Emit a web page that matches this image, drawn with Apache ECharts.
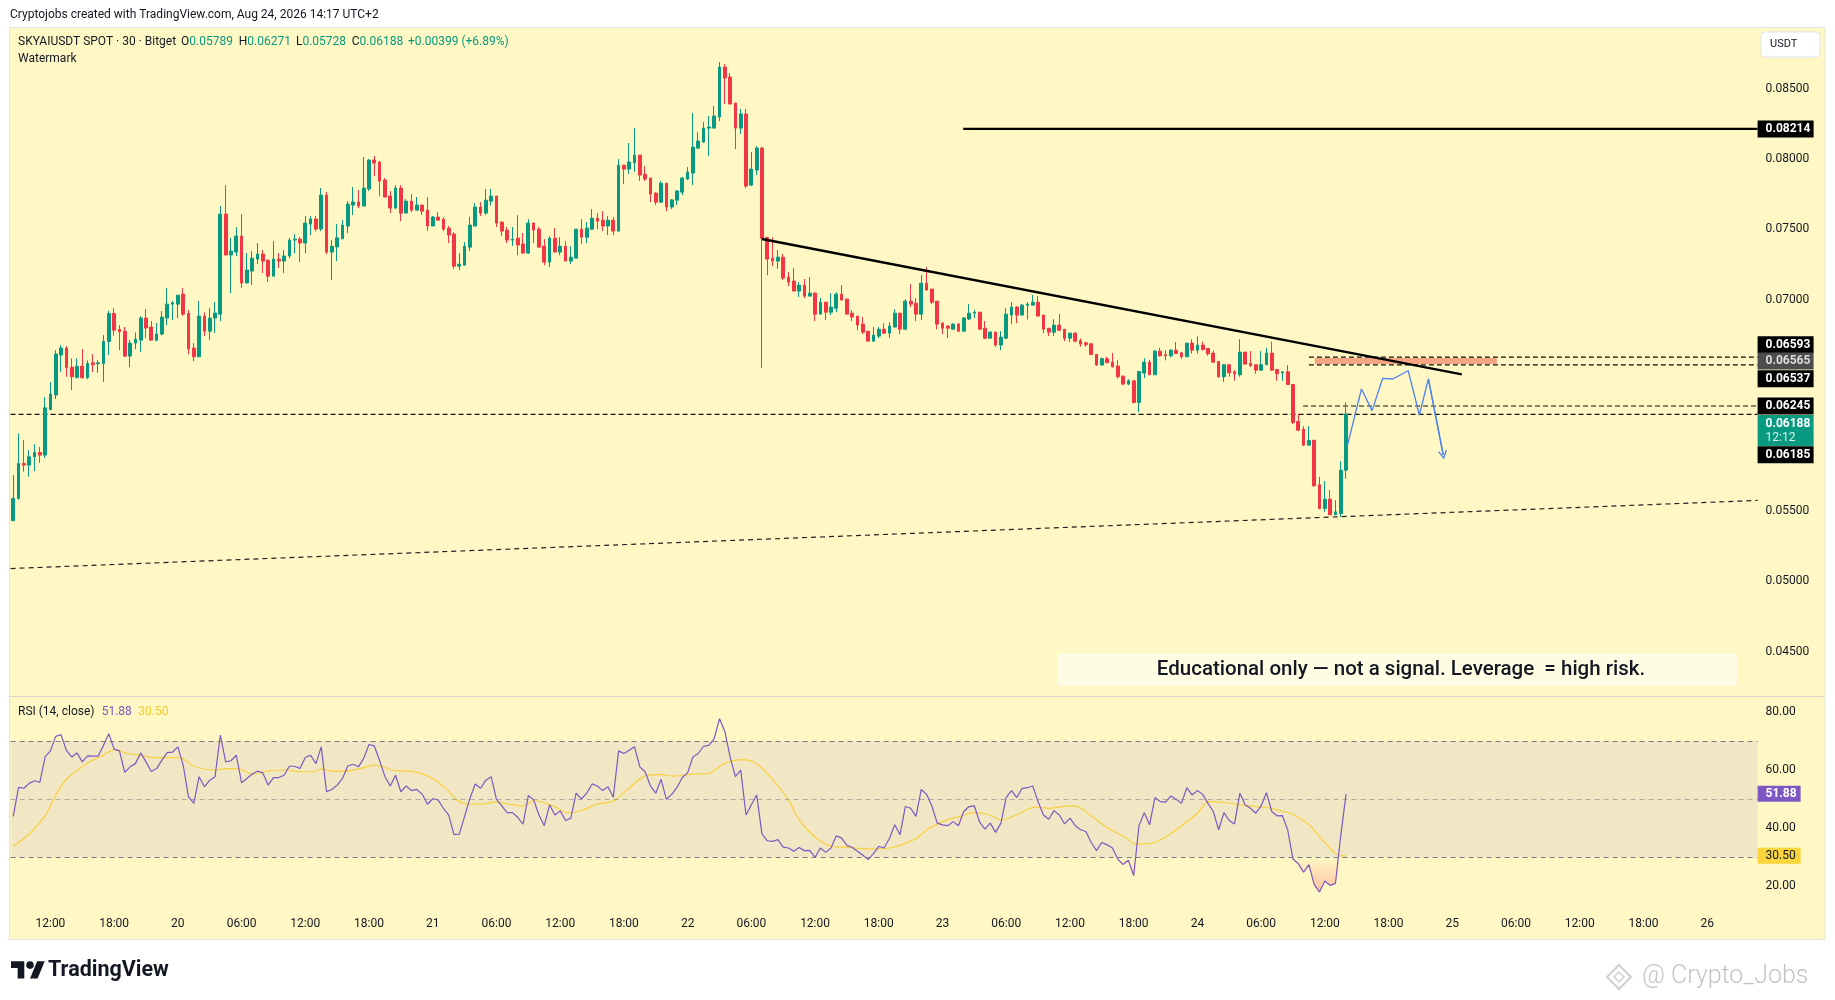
<!DOCTYPE html>
<html>
<head>
<meta charset="utf-8">
<script src="https://cdn.jsdelivr.net/npm/echarts@6/dist/echarts.min.js"></script>
<style>
html,body{margin:0;padding:0;background:#ffffff;}
#chart{width:1835px;height:1000px;}
</style>
</head>
<body>
<div id="chart"></div>
<script>
// ---------------- DATA ----------------
const opens = [0.05430,0.05588,0.05836,0.05825,0.05884,0.05915,0.05896,0.06220,0.06323,0.06607,
0.06657,0.06521,0.06448,0.06528,0.06446,0.06552,0.06547,0.06547,0.06704,0.06903,
0.06789,0.06777,0.06600,0.06692,0.06713,0.06870,0.06806,0.06713,0.06756,0.06870,
0.06969,0.06969,0.07040,0.06903,0.06657,0.06595,0.06884,0.06777,0.06870,0.06898,
0.07609,0.07318,0.07339,0.07453,0.07119,0.07204,0.07289,0.07325,0.07280,0.07168,
0.07289,0.07275,0.07311,0.07424,0.07431,0.07403,0.07538,0.07574,0.07503,0.07744,
0.07339,0.07375,0.07433,0.07524,0.07673,0.07695,0.07666,0.07787,0.07993,0.07979,
0.07851,0.07737,0.07652,0.07794,0.07616,0.07701,0.07637,0.07673,0.07637,0.07524,
0.07588,0.07573,0.07509,0.07467,0.07239,0.07246,0.07374,0.07524,0.07659,0.07616,
0.07701,0.07737,0.07552,0.07495,0.07424,0.07438,0.07396,0.07332,0.07545,0.07502,
0.07381,0.07268,0.07438,0.07339,0.07381,0.07275,0.07296,0.07502,0.07445,0.07502,
0.07580,0.07566,0.07524,0.07566,0.07488,0.07957,0.07929,0.07972,0.08028,0.07893,
0.07865,0.07758,0.07694,0.07829,0.07659,0.07708,0.07765,0.07858,0.07901,0.08078,
0.08121,0.08220,0.08220,0.08299,0.08654,0.08583,0.08398,0.08220,0.08320,0.07815,
0.07922,0.08078,0.07443,0.07296,0.07275,0.07303,0.07161,0.07133,0.07062,0.07104,
0.07026,0.07047,0.06898,0.06983,0.06912,0.06940,0.07040,0.07005,0.06905,0.06884,
0.06827,0.06777,0.06706,0.06742,0.06791,0.06763,0.06806,0.06905,0.06791,0.06990,
0.06976,0.06898,0.07118,0.07076,0.06990,0.06834,0.06813,0.06791,0.06827,0.06777,
0.06863,0.06905,0.06912,0.06798,0.06727,0.06770,0.06678,0.06727,0.06891,0.06948,
0.06891,0.06962,0.06962,0.06983,0.06891,0.06798,0.06770,0.06820,0.06791,0.06727,
0.06763,0.06709,0.06694,0.06687,0.06611,0.06536,0.06581,0.06557,0.06529,0.06457,
0.06401,0.06424,0.06270,0.06479,0.06557,0.06467,0.06635,0.06609,0.06602,0.06642,
0.06623,0.06595,0.06692,0.06642,0.06678,0.06654,0.06621,0.06562,0.06453,0.06538,
0.06488,0.06467,0.06628,0.06548,0.06538,0.06500,0.06538,0.06621,0.06505,0.06481,
0.06488,0.06398,0.06135,0.06080,0.05967,0.06002,0.05685,0.05517,0.05583,0.05472,
0.05481,0.05789];

const closes = [0.05588,0.05836,0.05825,0.05884,0.05915,0.05896,0.06232,0.06330,0.06614,0.06657,
0.06517,0.06453,0.06528,0.06446,0.06547,0.06538,0.06552,0.06704,0.06903,0.06784,
0.06773,0.06600,0.06692,0.06720,0.06870,0.06799,0.06713,0.06756,0.06877,0.06969,
0.06979,0.07033,0.06898,0.06650,0.06595,0.06884,0.06777,0.06870,0.06906,0.07609,
0.07318,0.07346,0.07453,0.07119,0.07211,0.07296,0.07325,0.07275,0.07168,0.07289,
0.07275,0.07311,0.07424,0.07431,0.07403,0.07545,0.07574,0.07503,0.07744,0.07339,
0.07380,0.07440,0.07531,0.07680,0.07695,0.07666,0.07794,0.07993,0.07972,0.07844,
0.07730,0.07652,0.07794,0.07616,0.07701,0.07637,0.07673,0.07630,0.07524,0.07588,
0.07566,0.07502,0.07460,0.07239,0.07253,0.07381,0.07531,0.07659,0.07616,0.07708,
0.07737,0.07545,0.07488,0.07424,0.07431,0.07389,0.07332,0.07545,0.07495,0.07374,
0.07268,0.07438,0.07339,0.07381,0.07275,0.07303,0.07502,0.07445,0.07509,0.07580,
0.07559,0.07524,0.07566,0.07488,0.07957,0.07929,0.07979,0.08028,0.07886,0.07858,
0.07751,0.07694,0.07829,0.07659,0.07710,0.07773,0.07865,0.07908,0.08085,0.08128,
0.08220,0.08228,0.08306,0.08654,0.08576,0.08391,0.08220,0.08320,0.07808,0.07929,
0.08078,0.07436,0.07289,0.07275,0.07303,0.07154,0.07125,0.07062,0.07104,0.07026,
0.07047,0.06898,0.06983,0.06912,0.06948,0.07040,0.06998,0.06898,0.06877,0.06820,
0.06770,0.06706,0.06749,0.06791,0.06763,0.06813,0.06905,0.06791,0.06990,0.06969,
0.06898,0.07118,0.07069,0.06983,0.06827,0.06798,0.06798,0.06827,0.06777,0.06870,
0.06905,0.06912,0.06791,0.06727,0.06770,0.06678,0.06735,0.06898,0.06948,0.06891,
0.06962,0.06970,0.06983,0.06884,0.06791,0.06770,0.06820,0.06784,0.06727,0.06763,
0.06706,0.06685,0.06680,0.06611,0.06536,0.06581,0.06552,0.06524,0.06453,0.06401,
0.06424,0.06270,0.06490,0.06557,0.06467,0.06635,0.06602,0.06602,0.06642,0.06618,
0.06595,0.06692,0.06642,0.06678,0.06647,0.06616,0.06557,0.06453,0.06538,0.06481,
0.06472,0.06628,0.06543,0.06531,0.06500,0.06538,0.06621,0.06500,0.06474,0.06488,
0.06398,0.06128,0.06073,0.05967,0.06000,0.05678,0.05517,0.05583,0.05472,0.05493,
0.05789,0.06188];

const lows = [0.05430,0.05580,0.05778,0.05742,0.05782,0.05841,0.05877,0.06216,0.06294,0.06488,
0.06453,0.06358,0.06441,0.06441,0.06436,0.06486,0.06481,0.06417,0.06607,0.06744,
0.06642,0.06593,0.06521,0.06649,0.06630,0.06727,0.06713,0.06704,0.06747,0.06820,
0.06856,0.06870,0.06886,0.06614,0.06564,0.06595,0.06742,0.06713,0.06763,0.06848,
0.07318,0.07047,0.07310,0.07085,0.07119,0.07104,0.07254,0.07190,0.07126,0.07168,
0.07225,0.07190,0.07296,0.07330,0.07268,0.07330,0.07460,0.07488,0.07488,0.07325,
0.07140,0.07275,0.07433,0.07474,0.07602,0.07652,0.07666,0.07772,0.07879,0.07737,
0.07730,0.07616,0.07645,0.07559,0.07616,0.07623,0.07637,0.07602,0.07488,0.07524,
0.07566,0.07488,0.07403,0.07218,0.07211,0.07246,0.07346,0.07524,0.07595,0.07602,
0.07670,0.07517,0.07453,0.07403,0.07382,0.07317,0.07325,0.07325,0.07403,0.07374,
0.07246,0.07232,0.07339,0.07317,0.07275,0.07253,0.07296,0.07396,0.07403,0.07495,
0.07502,0.07488,0.07460,0.07460,0.07481,0.07822,0.07893,0.07910,0.07844,0.07844,
0.07694,0.07673,0.07687,0.07630,0.07645,0.07673,0.07744,0.07851,0.07815,0.08071,
0.08114,0.08021,0.08220,0.08270,0.08391,0.08391,0.08071,0.08178,0.07794,0.07808,
0.07886,0.06516,0.07175,0.07240,0.07220,0.07140,0.07097,0.07062,0.07020,0.07012,
0.07026,0.06848,0.06898,0.06855,0.06891,0.06912,0.06998,0.06898,0.06848,0.06784,
0.06756,0.06706,0.06706,0.06727,0.06756,0.06727,0.06806,0.06756,0.06784,0.06948,
0.06848,0.06855,0.07069,0.06969,0.06791,0.06756,0.06727,0.06791,0.06770,0.06777,
0.06856,0.06870,0.06784,0.06720,0.06727,0.06663,0.06642,0.06720,0.06827,0.06834,
0.06891,0.06860,0.06962,0.06884,0.06763,0.06742,0.06742,0.06777,0.06706,0.06699,
0.06699,0.06666,0.06666,0.06607,0.06531,0.06536,0.06552,0.06519,0.06439,0.06393,
0.06393,0.06263,0.06201,0.06443,0.06467,0.06467,0.06597,0.06569,0.06590,0.06614,
0.06581,0.06595,0.06618,0.06618,0.06640,0.06602,0.06550,0.06446,0.06417,0.06453,
0.06424,0.06453,0.06543,0.06524,0.06474,0.06495,0.06538,0.06495,0.06424,0.06424,
0.06398,0.06116,0.06066,0.05960,0.05967,0.05671,0.05510,0.05493,0.05472,0.05472,
0.05457,0.05728];

const highs = [0.05754,0.06050,0.06003,0.05931,0.05974,0.05955,0.06308,0.06415,0.06642,0.06678,
0.06671,0.06583,0.06583,0.06649,0.06569,0.06614,0.06571,0.06749,0.06922,0.06940,
0.06820,0.06806,0.06713,0.06768,0.06884,0.06934,0.06848,0.06834,0.06920,0.07083,
0.06990,0.07033,0.07083,0.06927,0.06692,0.06991,0.06910,0.06940,0.06984,0.07666,
0.07815,0.07440,0.07517,0.07609,0.07332,0.07346,0.07403,0.07353,0.07289,0.07417,
0.07332,0.07353,0.07440,0.07467,0.07446,0.07595,0.07595,0.07595,0.07794,0.07766,
0.07424,0.07538,0.07567,0.07702,0.07801,0.07780,0.08014,0.08000,0.08021,0.07986,
0.07865,0.07772,0.07815,0.07815,0.07716,0.07751,0.07730,0.07673,0.07730,0.07595,
0.07623,0.07588,0.07524,0.07481,0.07332,0.07410,0.07588,0.07687,0.07694,0.07787,
0.07787,0.07737,0.07559,0.07517,0.07517,0.07602,0.07474,0.07573,0.07552,0.07517,
0.07431,0.07453,0.07509,0.07445,0.07417,0.07381,0.07502,0.07573,0.07552,0.07644,
0.07616,0.07630,0.07595,0.07588,0.08000,0.07957,0.08114,0.08220,0.08028,0.07950,
0.07865,0.07765,0.07844,0.07829,0.07716,0.07780,0.07872,0.07943,0.08327,0.08192,
0.08263,0.08306,0.08377,0.08690,0.08675,0.08611,0.08398,0.08356,0.08356,0.08050,
0.08092,0.08088,0.07443,0.07443,0.07353,0.07325,0.07197,0.07225,0.07126,0.07147,
0.07161,0.07054,0.07012,0.06983,0.07047,0.07054,0.07104,0.07005,0.06926,0.06884,
0.06877,0.06777,0.06806,0.06806,0.06834,0.06841,0.06933,0.06905,0.07005,0.07111,
0.07012,0.07175,0.07232,0.07076,0.06990,0.06841,0.06820,0.06834,0.06834,0.06877,
0.06970,0.06926,0.06912,0.06848,0.06777,0.06777,0.06777,0.06941,0.06983,0.06955,
0.06970,0.06983,0.07033,0.07026,0.06891,0.06798,0.06862,0.06898,0.06791,0.06763,
0.06770,0.06725,0.06702,0.06692,0.06616,0.06590,0.06595,0.06623,0.06571,0.06462,
0.06436,0.06429,0.06495,0.06585,0.06574,0.06642,0.06659,0.06642,0.06649,0.06700,
0.06630,0.06692,0.06720,0.06740,0.06702,0.06654,0.06640,0.06562,0.06543,0.06543,
0.06500,0.06720,0.06628,0.06635,0.06538,0.06635,0.06659,0.06702,0.06505,0.06488,
0.06536,0.06398,0.06190,0.06102,0.06102,0.06002,0.05742,0.05711,0.05647,0.05576,
0.05853,0.06271];

const rsiValues = [44.1,54.1,53.8,55.5,56.4,55.8,64.6,66.7,71.7,72.3,
66.9,64.6,66.0,62.9,65.0,64.9,64.9,68.6,72.6,67.3,
66.7,59.3,61.2,62.3,66.0,62.9,59.6,60.6,63.5,66.1,
66.3,68.1,61.8,50.9,48.6,57.8,54.3,56.6,57.8,72.1,
62.9,63.3,65.2,55.7,57.2,58.7,59.7,59.1,54.9,57.5,
57.5,58.3,61.4,61.4,60.6,64.4,65.2,62.3,68.1,52.6,
53.4,54.9,57.2,61.5,62.1,61.2,64.1,68.9,68.4,63.3,
57.8,54.6,58.3,52.6,54.6,53.0,53.4,51.8,48.3,50.2,
49.8,46.9,44.6,37.8,38.0,44.1,50.3,55.3,53.8,56.6,
57.8,50.0,47.7,45.4,45.4,43.8,41.4,51.3,49.8,44.6,
40.9,48.1,44.6,46.0,42.7,43.5,52.1,50.1,52.1,55.3,
54.6,53.0,54.3,50.7,66.7,65.8,66.9,68.1,61.2,59.5,
54.6,52.1,56.9,50.0,51.7,54.1,57.5,59.1,64.6,65.8,
68.3,68.6,70.9,77.8,73.5,64.6,57.8,60.1,44.6,48.1,
51.5,38.1,35.7,35.5,36.1,33.5,33.2,32.1,33.4,32.3,
32.4,30.0,33.2,31.7,33.2,37.4,36.6,34.1,33.4,32.1,
30.7,29.2,31.3,33.8,33.2,36.5,41.2,37.8,47.5,46.9,
44.1,53.4,51.7,47.7,41.8,41.2,40.9,42.3,40.9,45.8,
47.5,47.7,42.1,39.7,41.8,38.6,41.8,50.7,53.0,50.6,
53.8,54.0,54.6,49.2,44.6,43.1,46.1,44.6,41.5,43.5,
40.9,39.5,38.9,35.1,32.3,35.1,34.3,33.2,29.4,27.5,
29.0,23.7,40.9,45.4,41.2,50.6,49.2,49.0,51.1,50.0,
48.6,54.0,51.5,53.0,51.7,48.6,45.8,39.5,45.4,42.7,
41.5,52.1,48.1,46.9,45.2,47.7,52.3,45.8,44.3,44.4,
39.5,29.4,27.8,24.9,27.5,20.6,18.0,21.8,20.3,21.0,
37.5,51.88];

// RSI-based moving average, read at these bar positions
const rsiMaIdx = [0,3.15,5.97,7.85,10.05,13.8,16.3,19.2,21.4,23.9,26.4,28.9,31.4,33.9,37.7,40.2,42.1,45.2,47.7,51.5,54,56.5,58.1,60.3,62.8,65.3,68.1,71.9,74.7,77.2,79.7,80.4,81.9,83.5,86,88.5,90.7,93.5,95.9,98.2,101.7,104.5,107.3,109.8,113,116.1,118.9,121.8,124.3,128,130.9,132.5,134.3,137.2,140,143.1,146,147.8,151,154.1,157.6,161,165,167,169.8,172.6,175.8,178.3,181.1,183.9,186.1,188.9,192.4,195.2,197.4,199.9,202.8,205.9,209.7,211.3,213.8,216.6,219.8,222.9,225.1,228.3,231.1,234.3,236.8,239.3,241.2,244,246.8,249.7,251];
const rsiMaVal = [33.8,38.3,44.3,50.9,57,62.3,64.6,67.1,65.8,65.2,64.4,64.4,64.4,61.5,60.1,60.6,60.6,58.7,59.7,60.1,59.5,59.5,60.4,59.7,59.7,60.6,61.8,59.9,59.7,58.7,56.4,55.3,53,49.8,48.3,48.4,49,48.3,47.7,49.5,47.7,45.4,46.3,48.3,49.4,54.1,58,58.6,58,58.7,58.9,60.6,62.7,63.7,62.3,56.6,49.8,43.5,37,33.8,33.4,32.9,33.2,34.1,36.3,40.1,42.9,44.1,45.4,44.6,42.9,44.6,47.3,46.9,47.5,47.7,44.6,40.4,36.6,34.6,34.7,36.6,40.6,45,49.2,48.9,48.1,47.5,46.9,45.8,44.6,41.2,35.5,30.6,30.5];

const priceTickLabels = ['0.04500','0.05000','0.05500','0.07000','0.07500','0.08000','0.08500'];
const rsiTickLabels = ['20.00','40.00','60.00','80.00'];

// time slots: 30-minute bars, first bar Aug 19 08:30, axis runs into the future
const firstBarTime = Date.UTC(2026, 7, 19, 8, 30);
const slotCount = 329;

// drawings (bar index, price)
const resistanceLevel = 0.08214, resistanceFrom = 178.9;
const trendIdx = [141, 272.8], trendVal = [0.07432, 0.06470];
const supportIdx = [-0.5, 328.5], supportVal = [0.05090, 0.05574];
const zoneUpper = 0.06593, zoneMid = 0.06565, zoneLower = 0.06537, zoneFrom = 244, bandIdx = [245.1, 279.4];
const breakLevel = 0.06245, breakFrom = 242.9;
const lastLevel = 0.06185;
const projIdx = [251.2, 253.9, 255.9, 257.9, 259.8, 262.7, 264.8, 266.5, 269.3];
const projVal = [0.05956, 0.06366, 0.06212, 0.06442, 0.06437, 0.06496, 0.06181, 0.06437, 0.05897];

const currentPrice = 0.06188, countdown = '12:12';
const rsiLast = 51.88, rsiMaLast = 30.50;
const headerPairs = [['O','0.05789'],['H','0.06271'],['L','0.05728'],['C','0.06188']];
const headerChange = '+0.00399 (+6.89%)';

// ---------------- BUILD ----------------
const FONT = "Roboto, 'Liberation Sans', sans-serif";
const GREEN = '#089981', RED = '#F23645', TXT = '#131722';

const cats = [];
for (let i = 0; i < slotCount; i++) {
  cats.push(new Date(firstBarTime + i * 1800000).toISOString().slice(0, 16));
}
const pad = n => (n < 10 ? '0' : '') + n;
const candleData = opens.map((o, i) => [o, closes[i], lows[i], highs[i]]);
const osBase = rsiValues.map(v => Math.min(v, 30));
const osFill = osBase.map(v => 30 - v);
const lastX = slotCount - 0.5;

function drawLine(id, xs, ys, style, z) {
  return { type: 'line', id, xAxisIndex: 1, yAxisIndex: 0, data: xs.map((x, i) => [x, ys[i]]),
    symbol: 'none', silent: true, z: z || 3, lineStyle: style, emphasis: { disabled: true } };
}

const chart = echarts.init(document.getElementById('chart'), null, { renderer: 'canvas' });

const option = {
  animation: false,
  backgroundColor: '#ffffff',
  textStyle: { fontFamily: FONT },
  grid: [
    { left: 10.6, right: 77.4, top: 18.37, bottom: 278.1, outerBoundsMode: 'none', containLabel: false },
    { left: 10.6, right: 77.4, top: 654.3, bottom: 55.7, outerBoundsMode: 'none', containLabel: false }
  ],
  xAxis: [
    { type: 'category', gridIndex: 0, data: cats, boundaryGap: true, show: false },
    { type: 'value', gridIndex: 0, min: -0.5, max: lastX, show: false },
    { type: 'category', gridIndex: 1, data: cats, boundaryGap: true,
      axisLine: { show: false }, axisTick: { show: false }, splitLine: { show: false },
      axisLabel: {
        margin: -26, color: TXT, fontSize: 12, fontFamily: FONT, verticalAlign: 'top',
        interval: (idx, val) => { const d = new Date(val + ':00Z'); return d.getUTCMinutes() === 0 && d.getUTCHours() % 6 === 0; },
        formatter: val => { const d = new Date(val + ':00Z'); const h = d.getUTCHours(); return h === 0 ? String(d.getUTCDate()) : pad(h) + ':00'; }
      } },
    { type: 'value', gridIndex: 1, min: -0.5, max: lastX, show: false }
  ],
  yAxis: [
    { type: 'value', gridIndex: 0, position: 'right', min: 0.04, max: 0.09, interval: 0.005,
      axisLine: { show: false }, axisTick: { show: false }, splitLine: { show: false },
      axisLabel: { margin: 8, color: TXT, fontSize: 12, fontFamily: FONT,
        formatter: v => { const s = v.toFixed(5); return priceTickLabels.includes(s) ? s : ''; } } },
    { type: 'value', gridIndex: 1, position: 'right', min: 0, max: 100, interval: 20,
      axisLine: { show: false }, axisTick: { show: false }, splitLine: { show: false },
      axisLabel: { margin: 8, color: TXT, fontSize: 12, fontFamily: FONT,
        formatter: v => { const s = v.toFixed(2); return rsiTickLabels.includes(s) ? s : ''; } } }
  ],
  series: [
    { type: 'candlestick', name: 'SKYAIUSDT', xAxisIndex: 0, yAxisIndex: 0, data: candleData,
      barWidth: 3.2, z: 5, silent: true,
      itemStyle: { color: GREEN, color0: RED, borderColor: GREEN, borderColor0: RED, borderWidth: 1 } },
    // horizontal levels & drawings
    drawLine('lastLine', [-0.5, lastX], [lastLevel, lastLevel], { color: '#111', width: 1.2, type: [5, 3] }),
    drawLine('breakLine', [breakFrom, lastX], [breakLevel, breakLevel], { color: '#111', width: 1.2, type: [5, 3] }),
    drawLine('zoneUpper', [zoneFrom, lastX], [zoneUpper, zoneUpper], { color: '#111', width: 1.2, type: [5, 3] }),
    drawLine('zoneLower', [zoneFrom, lastX], [zoneLower, zoneLower], { color: '#111', width: 1.2, type: [5, 3] }),
    drawLine('zoneBand', bandIdx, [zoneMid, zoneMid], { color: 'rgba(244,150,120,0.85)', width: 6 }, 4),
    drawLine('support', supportIdx, supportVal, { color: '#222', width: 1.2, type: [5, 4] }),
    drawLine('resistance', [resistanceFrom, lastX], [resistanceLevel, resistanceLevel], { color: '#000', width: 2.2 }),
    drawLine('trend', trendIdx, trendVal, { color: '#000', width: 2.4 }, 6),
    Object.assign(drawLine('projection', projIdx, projVal, { color: '#4f80f0', width: 1.3 }, 7), {
      markLine: { silent: true, symbol: ['none', 'path://M0,10 L5,0 L10,10 L8.6,10.8 L5,3 L1.4,10.8 Z'], symbolSize: [9, 9],
        label: { show: false }, lineStyle: { color: '#4f80f0', width: 1.3, type: 'solid' },
        data: [[{ coord: [projIdx[7], projVal[7]] }, { coord: [projIdx[8], projVal[8]] }]] } }),
    // RSI oversold fill (stacked between RSI and 30)
    { type: 'line', id: 'osBase', xAxisIndex: 2, yAxisIndex: 1, stack: 'os', data: osBase, symbol: 'none', silent: true,
      lineStyle: { opacity: 0 }, z: 2 },
    { type: 'line', id: 'osFill', xAxisIndex: 2, yAxisIndex: 1, stack: 'os', data: osFill, symbol: 'none', silent: true,
      lineStyle: { opacity: 0 }, areaStyle: { color: 'rgba(242,54,69,0.25)' }, z: 2 },
    // RSI
    { type: 'line', id: 'rsi', name: 'RSI', xAxisIndex: 2, yAxisIndex: 1, data: rsiValues, symbol: 'none', silent: true,
      lineStyle: { color: '#7E57C2', width: 1.2 }, z: 4,
      markArea: { silent: true, itemStyle: { color: 'rgba(126,87,194,0.1)' }, data: [[{ yAxis: 30 }, { yAxis: 70 }]] },
      markLine: { silent: true, symbol: ['none', 'none'], label: { show: false },
        data: [
          { yAxis: 70, lineStyle: { color: '#787B86', width: 1, type: [5, 4] } },
          { yAxis: 50, lineStyle: { color: 'rgba(120,123,134,0.55)', width: 1, type: [5, 4] } },
          { yAxis: 30, lineStyle: { color: '#787B86', width: 1, type: [5, 4] } }
        ] } },
    { type: 'line', id: 'rsiMa', name: 'RSI MA', xAxisIndex: 3, yAxisIndex: 1, data: rsiMaIdx.map((x, i) => [x, rsiMaVal[i]]),
      symbol: 'none', silent: true, smooth: 0.3, lineStyle: { color: '#F7D13E', width: 1.2 }, z: 3 }
  ]
};
chart.setOption(option);

// ---------------- second pass: overlays placed with the library's own scales ----------------
const py = v => chart.convertToPixel({ yAxisIndex: 0 }, v);
const ry = v => chart.convertToPixel({ yAxisIndex: 1 }, v);
const plotRight = chart.convertToPixel({ xAxisIndex: 1 }, lastX);

// oversold gradient (global pixel coordinates of RSI 30 -> RSI 0)
const y30 = ry(30), y0 = ry(0);
chart.setOption({
  series: [{ id: 'osFill', areaStyle: { color: new echarts.graphic.LinearGradient(0, y30, 0, y0,
    [{ offset: 0, color: 'rgba(242,54,69,0)' }, { offset: 1, color: 'rgba(242,54,69,1)' }], true) } }]
});

const G = [];
G.push({ type: 'rect', z: -10, silent: true, shape: { x: 9.5, y: 27.5, width: 1815.5, height: 912 },
  style: { fill: '#fff8c4', stroke: '#e4e4e4', lineWidth: 1 } });
G.push({ type: 'line', z: 1, silent: true, shape: { x1: 9.5, y1: 696.5, x2: 1825, y2: 696.5 }, style: { stroke: '#d8d8d0', lineWidth: 1.2 } });

function txt(x, y, text, font, fill, align, z, extra) {
  return Object.assign({ type: 'text', z: z || 20, silent: true, x, y,
    style: { text, font, fill, textAlign: align || 'left', align: align || 'left', textVerticalAlign: 'middle', verticalAlign: 'middle' } }, extra || {});
}
// top header
G.push(txt(10, 15, 'Cryptojobs created with TradingView.com, Aug 24, 2026 14:17 UTC+2', '12px ' + FONT, TXT));
G.push(txt(18, 41.5, 'SKYAIUSDT SPOT · 30 · Bitget', '12px ' + FONT, TXT));
const hx = [181, 238.7, 296, 351.7];
headerPairs.forEach((p, i) => {
  G.push({ type: 'text', z: 20, silent: true, x: hx[i], y: 41.5,
    style: { text: '{a|' + p[0] + '}{b|' + p[1] + '}', font: '12px ' + FONT, textVerticalAlign: 'middle', verticalAlign: 'middle',
      rich: { a: { fill: TXT, color: TXT, fontSize: 12, fontFamily: FONT }, b: { fill: GREEN, color: GREEN, fontSize: 12, fontFamily: FONT } } } });
});
G.push(txt(408, 41.5, headerChange, '12px ' + FONT, GREEN));
G.push(txt(18, 58.5, 'Watermark', '12px ' + FONT, TXT));

// USDT button
G.push({ type: 'rect', z: 20, silent: true, shape: { x: 1761, y: 32, width: 59, height: 25, r: 4 }, style: { fill: '#ffffff', stroke: '#e0e3eb', lineWidth: 1 } });
G.push(txt(1770, 44.5, 'USDT', '11px ' + FONT, TXT, 'left', 21));

// price scale labels
const boxW = 56;
const priceMarks = [
  { v: resistanceLevel, bg: '#000000', fg: '#ffffff', dy: 0 },
  { v: zoneUpper, bg: '#000000', fg: '#ffffff', dy: -12.3 },
  { v: zoneMid, bg: '#4d4d4d', fg: '#dcdcdc', dy: 0 },
  { v: zoneLower, bg: '#000000', fg: '#ffffff', dy: 13.8 },
  { v: breakLevel, bg: '#000000', fg: '#ffffff', dy: 0 },
  { v: lastLevel, bg: '#000000', fg: '#ffffff', dy: 40.3 }
];
priceMarks.forEach(m => {
  const cy = py(m.v) + m.dy;
  G.push({ type: 'rect', z: 30, silent: true, shape: { x: plotRight, y: cy - 8.5, width: boxW, height: 17 }, style: { fill: m.bg } });
  G.push(txt(plotRight + 8, cy, m.v.toFixed(5), 'bold 12px ' + FONT, m.fg, 'left', 31));
});
const cpTop = py(currentPrice) + 1;
G.push({ type: 'rect', z: 30, silent: true, shape: { x: plotRight, y: cpTop, width: boxW, height: 31 }, style: { fill: GREEN } });
G.push(txt(plotRight + 8, cpTop + 8.5, currentPrice.toFixed(5), 'bold 12px ' + FONT, '#ffffff', 'left', 31));
G.push(txt(plotRight + 8, cpTop + 22.5, countdown, '12px ' + FONT, 'rgba(255,255,255,0.85)', 'left', 31));

// RSI scale labels
G.push({ type: 'rect', z: 30, silent: true, shape: { x: plotRight, y: ry(rsiLast) - 8, width: 43, height: 16 }, style: { fill: '#7E57C2' } });
G.push(txt(plotRight + 8, ry(rsiLast), rsiLast.toFixed(2), 'bold 12px ' + FONT, '#ffffff', 'left', 31));
G.push({ type: 'rect', z: 30, silent: true, shape: { x: plotRight, y: ry(rsiMaLast) - 8, width: 43, height: 16 }, style: { fill: '#F9D53B' } });
G.push(txt(plotRight + 8, ry(rsiMaLast), rsiMaLast.toFixed(2), '12px ' + FONT, TXT, 'left', 31));

// RSI legend
G.push(txt(18, 712, 'RSI (14, close)', '12px ' + FONT, TXT));
G.push(txt(101.7, 712, rsiLast.toFixed(2), '12px ' + FONT, '#7E57C2'));
G.push(txt(138.3, 712, rsiMaLast.toFixed(2), '12px ' + FONT, '#F5C930'));

// disclaimer box
G.push({ type: 'rect', z: 25, silent: true, shape: { x: 1057, y: 653.3, width: 680, height: 32.4 }, style: { fill: 'rgba(255,255,255,0.55)' } });
G.push(txt(1401, 670, 'Educational only — not a signal. Leverage  = high risk.', '500 20.5px ' + FONT, '#131722', 'center', 26));

// footer: TradingView logo (polygons scaled from a 36x28 design)
const ls = 0.95, lx = 11, ly = 957.5;
const lp = pts => pts.map(p => [lx + p[0] * ls, ly + p[1] * ls]);
G.push({ type: 'polygon', z: 20, silent: true, shape: { points: lp([[0, 4], [14, 4], [14, 22], [7, 22], [7, 11], [0, 11]]) }, style: { fill: '#131722' } });
G.push({ type: 'polygon', z: 20, silent: true, shape: { points: lp([[20, 22], [27.5, 4], [35.5, 4], [28, 22]]) }, style: { fill: '#131722' } });
G.push({ type: 'circle', z: 20, silent: true, shape: { cx: lx + 20 * ls, cy: ly + 8 * ls, r: 4 * ls }, style: { fill: '#131722' } });
G.push(txt(48, 971, 'TradingView', 'bold 21.5px ' + FONT, '#131722'));

// footer: author watermark
G.push({ type: 'polygon', z: 20, silent: true, shape: { points: [[1619, 965], [1631, 977], [1619, 989], [1607, 977]] }, style: { fill: 'none', stroke: '#d0d0d0', lineWidth: 2 } });
G.push({ type: 'polygon', z: 20, silent: true, shape: { points: [[1619, 972], [1624, 977], [1619, 982], [1614, 977]] }, style: { fill: 'none', stroke: '#d0d0d0', lineWidth: 1.5 } });
G.push(txt(1642, 977, '@ Crypto_Jobs', '300 25px ' + FONT, '#c4c4c4'));

chart.setOption({ graphic: G });
</script>
</body>
</html>
